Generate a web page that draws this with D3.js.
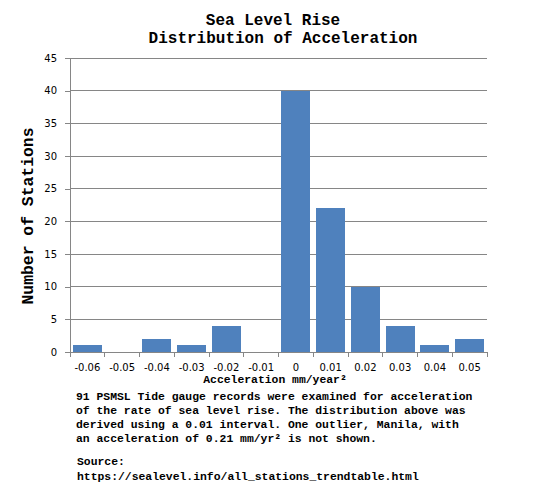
<!DOCTYPE html>
<html>
<head>
<meta charset="utf-8">
<script src="https://cdn.jsdelivr.net/npm/d3@7"></script>
<style>
  body { margin: 0; background: #fff; }
  .mono { font-family: "Liberation Mono", "Courier New", monospace; font-weight: bold; }
  .tick text { font-family: "DejaVu Sans", Tahoma, sans-serif; font-size: 10px; fill: #000; }
</style>
</head>
<body>
<svg class="svg-canvas"></svg>
<script>
// histogram bins (acceleration, mm/year^2) and station counts
const categories = ["-0.06", "-0.05", "-0.04", "-0.03", "-0.02", "-0.01", "0", "0.01", "0.02", "0.03", "0.04", "0.05"];
const counts = [1, 0, 2, 1, 4, 0, 40, 22, 10, 4, 1, 2];
const yTicks = [0, 5, 10, 15, 20, 25, 30, 35, 40, 45];
const titleLines = ["Sea Level Rise", "Distribution of Acceleration"];
const noteLines = [
  "91 PSMSL Tide gauge records were examined for acceleration",
  "of the rate of sea level rise. The distribution above was",
  "derived using a 0.01 interval. One outlier, Manila, with",
  "an acceleration of 0.21 mm/yr\u00b2 is not shown."
];
const sourceLines = ["Source:", "https://sealevel.info/all_stations_trendtable.html"];

const width = 556, height = 494;
const margin = { top: 58, right: 69, bottom: 142, left: 70 };

const svg = d3.select('.svg-canvas')
  .attr("width", width)
  .attr("height", height)
  .attr("viewBox", [0, 0, width, height]);

const xScale = d3.scaleBand()
  .domain(categories)
  .range([margin.left, width - margin.right])
  .paddingInner(0.17)
  .paddingOuter(0.085);

const yScale = d3.scaleLinear()
  .domain([0, 45])
  .range([height - margin.bottom, margin.top]);

const grey = "#868686";

// gridlines
svg.append("g")
  .selectAll("line")
  .data(yTicks.filter(d => d > 0))
  .join("line")
  .attr("x1", margin.left)
  .attr("x2", width - margin.right)
  .attr("y1", d => yScale(d))
  .attr("y2", d => yScale(d))
  .attr("stroke", grey)
  .attr("stroke-width", 1)
  .attr("shape-rendering", "crispEdges");

// bars
svg.append("g")
  .selectAll("rect")
  .data(categories.map((c, i) => ({ c, v: counts[i] })))
  .join("rect")
  .attr("x", d => xScale(d.c))
  .attr("width", xScale.bandwidth())
  .attr("y", d => yScale(d.v))
  .attr("height", d => yScale(0) - yScale(d.v))
  .attr("fill", "#4F81BD")
  .attr("shape-rendering", "crispEdges");

// y axis
const yAxis = svg.append("g")
  .attr("transform", `translate(${margin.left},0)`)
  .call(d3.axisLeft(yScale).tickValues(yTicks).tickSize(5).tickPadding(8));
yAxis.select(".domain").attr("stroke", grey).attr("shape-rendering", "crispEdges");
yAxis.selectAll(".tick line").attr("stroke", grey).attr("shape-rendering", "crispEdges");

// x axis: labels at band centres, tick marks at category boundaries
const xAxis = svg.append("g")
  .attr("transform", `translate(0,${yScale(0)})`)
  .call(d3.axisBottom(xScale).tickSize(0).tickPadding(12));
xAxis.select(".domain").remove();
xAxis.append("line")
  .attr("x1", margin.left).attr("x2", width - margin.right)
  .attr("stroke", grey).attr("shape-rendering", "crispEdges");
const step = xScale.step();
xAxis.selectAll(".edge")
  .data(d3.range(categories.length + 1))
  .join("line")
  .attr("class", "edge")
  .attr("x1", i => margin.left + i * step)
  .attr("x2", i => margin.left + i * step)
  .attr("y1", 0).attr("y2", 5)
  .attr("stroke", grey)
  .attr("shape-rendering", "crispEdges");

// title
svg.append("g")
  .selectAll("text")
  .data(titleLines)
  .join("text")
  .attr("class", "mono")
  .attr("text-anchor", "middle")
  .style("font-size", "16px")
  .attr("x", (d, i) => i === 0 ? 273 : 283)
  .attr("y", (d, i) => 25 + i * 18.3)
  .text(d => d);

// axis titles
svg.append("text")
  .attr("class", "mono")
  .attr("transform", "translate(33,216) rotate(-90)")
  .attr("text-anchor", "middle")
  .style("font-size", "16.4px")
  .text("Number of Stations");

svg.append("text")
  .attr("class", "mono")
  .attr("x", 275)
  .attr("y", 383)
  .attr("text-anchor", "middle")
  .style("font-size", "11.4px")
  .text("Acceleration mm/year\u00b2");

// notes
svg.append("g")
  .selectAll("text")
  .data(noteLines)
  .join("text")
  .attr("class", "mono")
  .attr("x", 76)
  .attr("y", (d, i) => 400 + i * 14.1)
  .style("font-size", "11.4px")
  .text(d => d);

svg.append("g")
  .selectAll("text")
  .data(sourceLines)
  .join("text")
  .attr("class", "mono")
  .attr("x", 77)
  .attr("y", (d, i) => 465 + i * 15)
  .style("font-size", "11.4px")
  .text(d => d);
</script>
</body>
</html>
